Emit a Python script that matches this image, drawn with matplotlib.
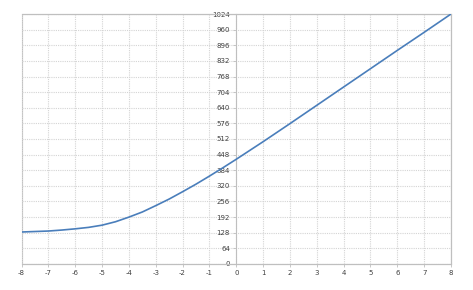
import matplotlib
matplotlib.use('Agg')
import matplotlib.pyplot as plt

# valores
xs = [-8, -7.5, -7, -6.5, -6, -5.5, -5, -4.5, -4, -3.5, -3, -2.5, -2, -1.5, -1, -0.5,
      0, 1, 2, 3, 4, 5, 6, 7, 8]
ys = [131, 133, 135, 139, 144, 150, 159, 173, 192, 213, 239, 266, 296, 327, 360, 394,
      429, 501, 575, 650, 725, 800, 875, 949, 1024]

x_ticks = list(range(-8, 9))
y_ticks = list(range(0, 1025, 64))

plt.rcParams['font.family'] = 'DejaVu Sans'
plt.rcParams['axes.unicode_minus'] = False

fig = plt.figure(figsize=(4.73, 2.90), dpi=100)
ax = fig.add_axes([0.0455, 0.0897, 0.908, 0.862])

ax.plot(xs, ys, color='#4a7ebb', linewidth=1.2, zorder=3)

ax.set_xlim(-8, 8)
ax.set_ylim(0, 1024)
ax.set_xticks(x_ticks)
ax.set_yticks(y_ticks)

ax.grid(True, color='#d4d4d4', linestyle=(0, (1, 1)), linewidth=0.8)
ax.set_axisbelow(True)

for s in ['top', 'right', 'bottom']:
    ax.spines[s].set_color('#bfbfbf')
    ax.spines[s].set_linewidth(0.8)
ax.spines['left'].set_position(('data', 0))
ax.spines['left'].set_color('#bfbfbf')
ax.spines['left'].set_linewidth(0.8)
ax.patch.set_edgecolor('#bfbfbf')
ax.patch.set_linewidth(0.8)

ax.tick_params(axis='both', labelsize=5, colors='#bfbfbf', labelcolor='#404040',
               length=2.5, width=0.6, pad=2)

fig.savefig('out.png', dpi=100)
